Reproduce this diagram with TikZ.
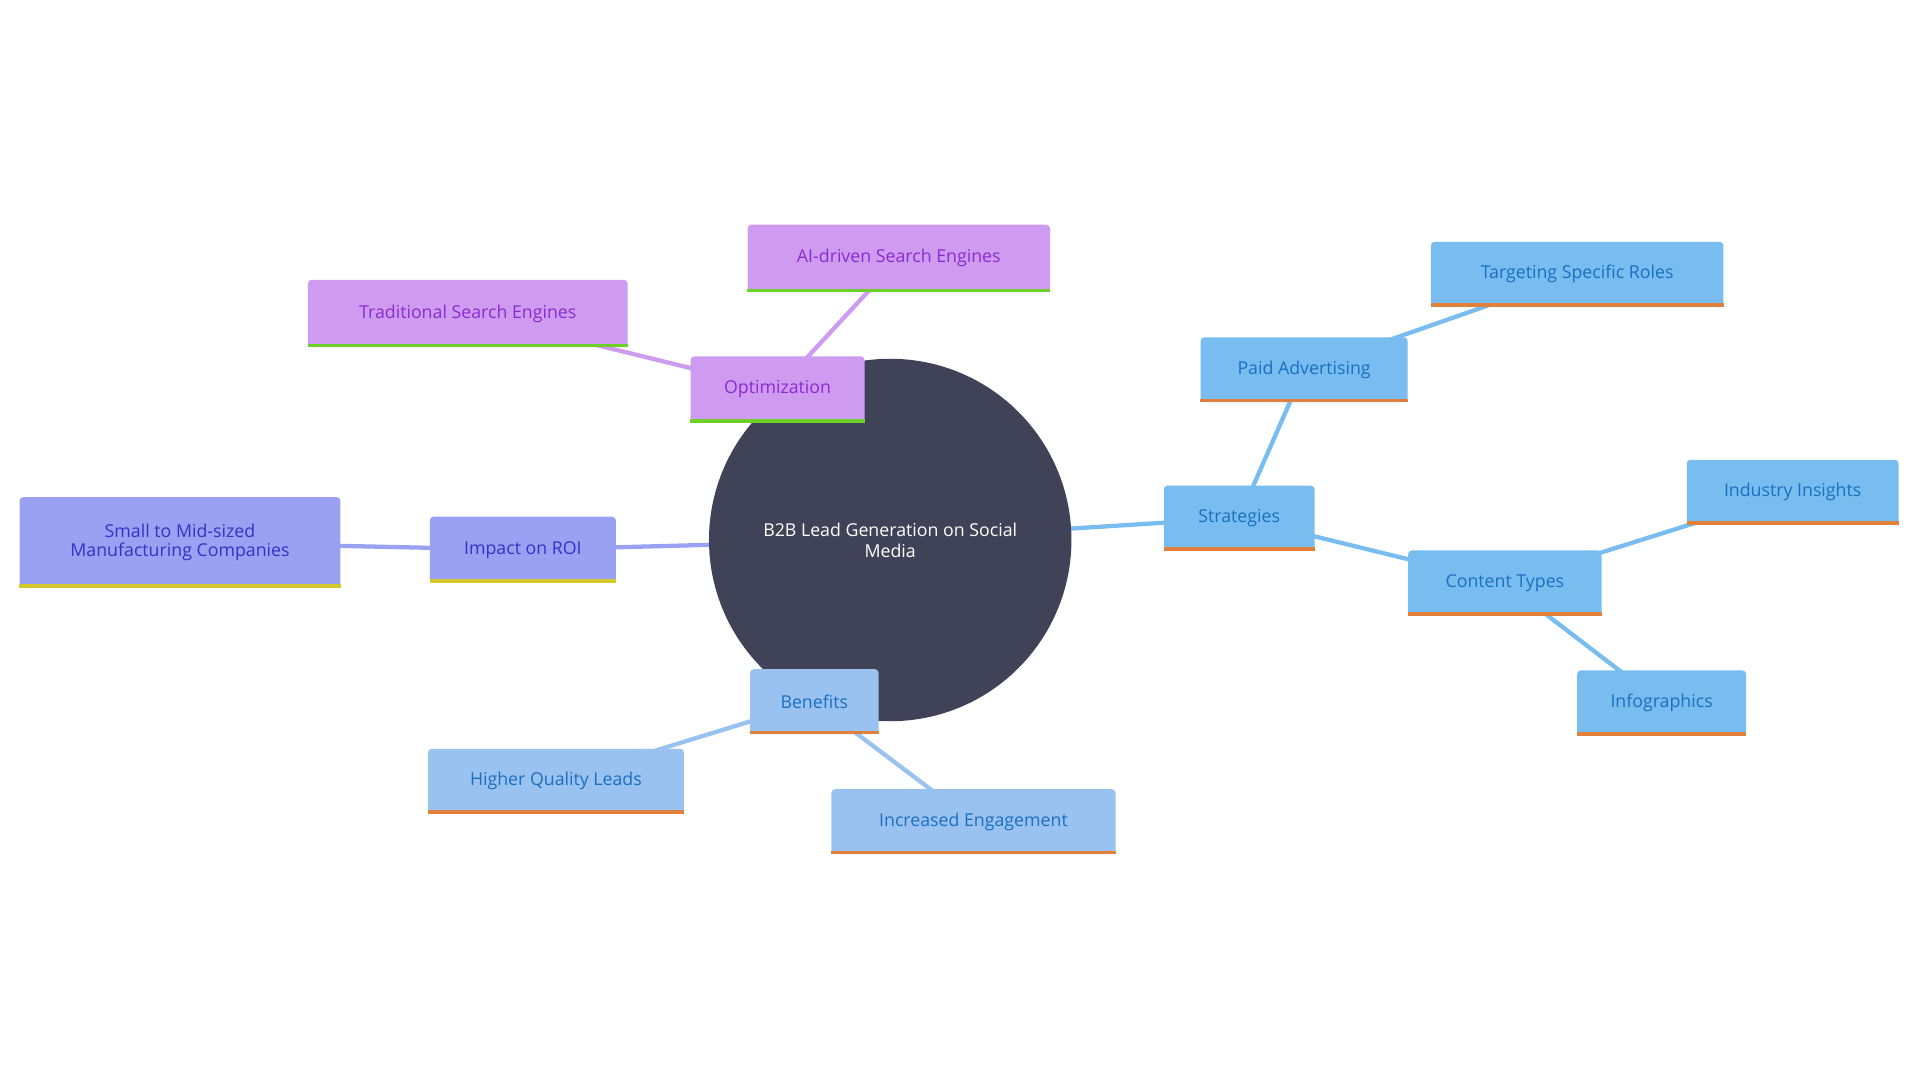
\documentclass[tikz,border=0pt]{standalone}
\usepackage{fontspec}
\setmainfont{Open Sans}
\pgfdeclarelayer{bg}
\pgfsetlayers{bg,main}
\definecolor{hub}{HTML}{404258}
\definecolor{bfill}{HTML}{79BDF0}
\definecolor{btext}{HTML}{1A6FC0}
\definecolor{bline}{HTML}{E0803A}
\definecolor{lfill}{HTML}{99C2F0}
\definecolor{pfill}{HTML}{9AA0F2}
\definecolor{ptext}{HTML}{3333C8}
\definecolor{pline}{HTML}{D4C82A}
\definecolor{vfill}{HTML}{CF9BF0}
\definecolor{vtext}{HTML}{8A2BD2}
\definecolor{vline}{HTML}{6CCF2A}
\tikzset{
  box/.style={rounded corners=3pt, inner sep=0pt, align=center, font=\fontsize{14.5}{16}\selectfont},
  bbox/.style={box, fill=bfill, text=btext},
  lbox/.style={box, fill=lfill, text=btext},
  pbox/.style={box, fill=pfill, text=ptext},
  vbox/.style={box, fill=vfill, text=vtext},
  ln/.style={line width=3.5pt},
  ul/.style={line width=3pt}
}
\newcommand{\bx}[6]{%
  \node[#1, minimum width=#4pt, minimum height=#5pt] (#2) at (#3) {#6};}
\begin{document}
\begin{tikzpicture}[x=1pt,y=-1pt]
\useasboundingbox (0,0) rectangle (1568,882);
\node[circle, fill=hub, minimum size=296pt, text=white, align=center, font=\fontsize{14.5}{17}\selectfont] (c) at (727,441) {B2B Lead Generation on Social\\Media};
\bx{bbox}{s}{1012,423}{123}{53}{Strategies}
\bx{bbox}{pa}{1065,302}{169}{53}{Paid Advertising}
\bx{bbox}{ts}{1288,224}{239}{53}{Targeting Specific Roles}
\bx{bbox}{ct}{1229,476}{158}{53}{Content Types}
\bx{bbox}{ii}{1464,402}{173}{53}{Industry Insights}
\bx{bbox}{ig}{1357,574}{138}{53}{Infographics}
\bx{lbox}{b}{665,573}{105}{53}{Benefits}
\bx{lbox}{hq}{454,638}{209}{53}{Higher Quality Leads}
\bx{lbox}{ie}{795,671}{232}{53}{Increased Engagement}
\bx{pbox}{roi}{427,449}{152}{54}{Impact on ROI}
\bx{pbox}{sm}{147,443}{262}{74}{Small to Mid-sized\\Manufacturing Companies}
\bx{vbox}{o}{635,318}{142}{54}{Optimization}
\bx{vbox}{tr}{382,256}{261}{55}{Traditional Search Engines}
\bx{vbox}{ai}{734,211}{247}{55}{AI-driven Search Engines}
\foreach \n in {s,pa,ts,ct,ii,ig,b,hq,ie}{\draw[ul,bline] ([yshift=1.5pt]\n.south west) -- ([yshift=1.5pt]\n.south east);}
\foreach \n in {roi,sm}{\draw[ul,pline] ([yshift=1.5pt]\n.south west) -- ([yshift=1.5pt]\n.south east);}
\foreach \n in {o,tr,ai}{\draw[ul,vline] ([yshift=1.5pt]\n.south west) -- ([yshift=1.5pt]\n.south east);}
\begin{pgfonlayer}{bg}
\draw[ln,bfill] (c.center) -- (s.center);
\draw[ln,bfill] (s.center) -- (pa.center);
\draw[ln,bfill] (pa.center) -- (ts.center);
\draw[ln,bfill] (s.center) -- (ct.center);
\draw[ln,bfill] (ct.center) -- (ii.center);
\draw[ln,bfill] (ct.center) -- (ig.center);
\draw[ln,lfill] (c.center) -- (b.center);
\draw[ln,lfill] (b.center) -- (hq.center);
\draw[ln,lfill] (b.center) -- (ie.center);
\draw[ln,pfill] (c.center) -- (roi.center);
\draw[ln,pfill] (roi.center) -- (sm.center);
\draw[ln,vfill] (c.center) -- (o.center);
\draw[ln,vfill] (o.center) -- (tr.center);
\draw[ln,vfill] (o.center) -- (ai.center);
\end{pgfonlayer}
\end{tikzpicture}
\end{document}
